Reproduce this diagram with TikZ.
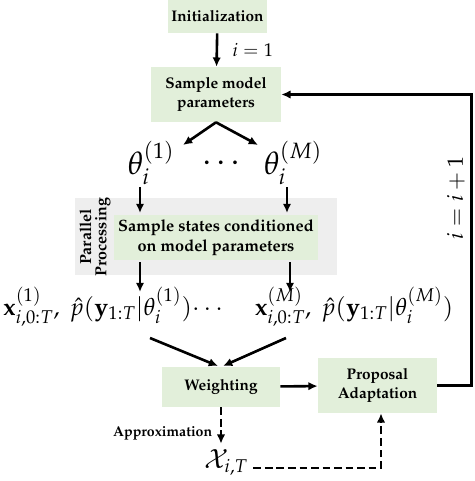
\documentclass[tikz,border=0pt]{standalone}
\usepackage[T1]{fontenc}
\usepackage{mathpazo}
\usetikzlibrary{arrows.meta}
\definecolor{boxgreen}{RGB}{226,239,218}
\definecolor{bggray}{RGB}{238,238,238}

\begin{document}
\begin{tikzpicture}[x=0.65pt,y=-0.65pt,
	box/.style={fill=boxgreen, font=\bfseries, align=center, inner sep=0pt},
	arr/.style={-{Latex[length=6pt,width=5.5pt]}, line width=1.7pt},
	darr/.style={arr, dash pattern=on 5pt off 2.5pt},
	rowtext/.style={font=\fontsize{15.8}{18}\selectfont, inner sep=0pt}]
	\useasboundingbox (0,0) rectangle (474,481);
	\fill[bggray] (75,198) rectangle (337,275);
	\node[font=\bfseries\fontsize{10.4}{10}\selectfont, align=center, rotate=90] (par) at (95,237) {Parallel\\Processing};
	\node[box, minimum width=64pt, minimum height=21.5pt] (init) at (217.5,16.5) {Initialization};
	\node[box, minimum width=84.5pt, minimum height=35.75pt] (smp) at (216,94.5) {Sample model\\parameters};
	\node[box, font=\bfseries\fontsize{10.6}{12.8}\selectfont, minimum width=132.6pt, minimum height=29pt] (states) at (216,237.5) {Sample states conditioned\\on model parameters};
	\node[box, minimum width=76.7pt, minimum height=26pt] (wgt) at (221,387) {Weighting};
	\node[box, minimum width=77.4pt, minimum height=35.75pt] (prop) at (377.5,385.5) {Proposal\\Adaptation};
	\node[font=\huge] (th1) at (151,163) {$\theta_i^{(1)}$};
	\node[font=\huge] (dots) at (221,163) {$\ldots$};
	\node[font=\huge] (thM) at (293,163) {$\theta_i^{(M)}$};
	\node[rowtext] (row1) at (113,307) {$\mathbf{x}_{i,0:T}^{(1)},\ \hat{p}(\mathbf{y}_{1:T}|\theta_i^{(1)})\!\cdots$};
	\node[rowtext] (rowM) at (354,307) {$\mathbf{x}_{i,0:T}^{(M)},\ \hat{p}(\mathbf{y}_{1:T}|\theta_i^{(M)})$};
	\node[font=\LARGE] (xi) at (226,462) {$\mathcal{X}_{i,T}$};
	% arrows
	\draw[arr] (init) -- node[right, font=\large, xshift=6pt] {$i=1$} (smp);
	\draw[arr] (smp.south) -- (183,145);
	\draw[arr] (smp.south) -- (258,145);
	\draw[arr] (140,187) -- (140,213);
	\draw[arr] (287,187) -- (287,213);
	\draw[arr] (140,262) -- (140,292);
	\draw[arr] (290,262) -- (290,292);
	\coordinate (w1) at (150,338);
	\coordinate (wM) at (286,338);
	\draw[arr] (w1) -- (218,366);
	\draw[arr] (wM) -- (223,366);
	\draw[arr] (wgt) -- (prop);
	% feedback loop
	\coordinate (loop) at (471.5,240);
	\draw[arr] (prop.east) -| (loop) |- (smp.east);
	\node[font=\Large, rotate=90] (inc) at (456,198) {$i=i+1$};
	% approximation
	\draw[darr] (wgt.south) -- node[left, font=\bfseries\fontsize{9.2}{11}\selectfont, pos=0.72, xshift=-1.5pt] {Approximation} (xi.north -| wgt.south);
	\coordinate (xend) at (381,468);
	\draw[darr] (xi.east |- xend) -- (xend) -- (prop.south -| xend);
\end{tikzpicture}
\end{document}
